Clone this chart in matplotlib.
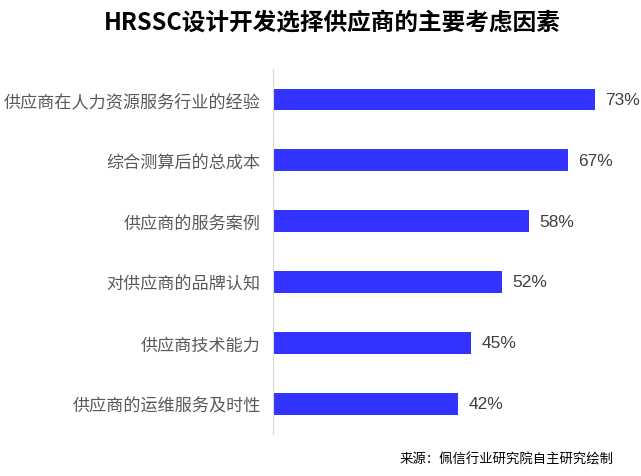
import matplotlib.pyplot as plt

plt.rcParams['font.family'] = ['Noto Sans CJK SC', 'DejaVu Sans']

categories = ['供应商在人力资源服务行业的经验', '综合测算后的总成本', '供应商的服务案例',
              '对供应商的品牌认知', '供应商技术能力', '供应商的运维服务及时性']
values = [73, 67, 58, 52, 45, 42]
title = 'HRSSC设计开发选择供应商的主要考虑因素'
source = '来源：佩信行业研究院自主研究绘制'

fig = plt.figure(figsize=(6.41, 4.77), dpi=100)
ax = fig.add_axes([0.426, 0.088, 0.564, 0.765])

ypos = list(range(len(categories)))
ax.barh(ypos, values, height=0.36, color='#3333ff')
for y, v in zip(ypos, values):
    ax.text(v + 2.3, y, f'{v}%', va='center', ha='left', fontsize=12.5,
            color='#404040', family=['Liberation Sans', 'DejaVu Sans'])

ax.set_yticks(ypos)
ax.set_yticklabels(categories, fontsize=12.3, color='#595959')
ax.tick_params(axis='y', length=0, pad=9)
ax.set_ylim(len(categories) - 0.5, -0.5)
ax.set_xlim(0, 82)
ax.set_xticks([])
for s in ['top', 'right', 'bottom']:
    ax.spines[s].set_visible(False)
ax.spines['left'].set_color('#d9d9d9')

fig.text(0.518, 0.953, title, ha='center', va='center', fontsize=17,
         fontweight='bold', color='#000000')
fig.text(0.957, 0.022, source, ha='right', va='bottom', fontsize=9.6, color='#000000')

fig.savefig('out.png', dpi=100)
